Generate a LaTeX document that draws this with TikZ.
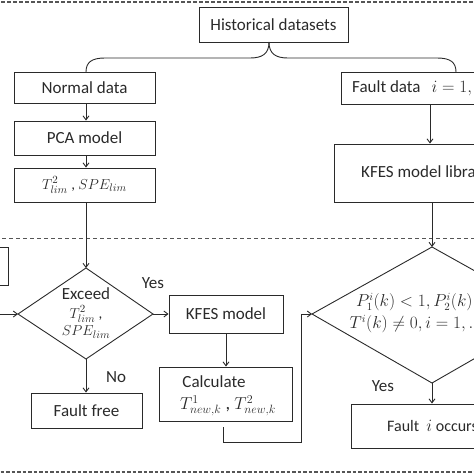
\documentclass[tikz,border=0pt]{standalone}
\usepackage{fontspec}
\setmainfont{Carlito}
\usetikzlibrary{arrows.meta}
\definecolor{ink}{HTML}{2A2A2A}
\definecolor{dashgray}{HTML}{555555}
\newcommand{\mfs}{\fontsize{15}{17}\selectfont}
\begin{document}
\begin{tikzpicture}[x=1pt,y=-1pt,
  box/.style={draw=ink,line width=0.9pt,inner sep=0pt,text=ink,font=\fontsize{17}{19}\selectfont},
  lbl/.style={text=ink,font=\fontsize{17}{19}\selectfont,inner sep=0pt},
  conn/.style={draw=ink,line width=0.9pt},
  arr/.style={conn,-{Straight Barb[length=4pt,width=6pt]}}]
\useasboundingbox (0,0) rectangle (474,474);
\clip (0,0) rectangle (474,474);
% dashed frames
\draw[draw=dashgray,line width=2pt,dash pattern=on 4pt off 2pt] (-5,2) -- (480,2);
\draw[draw=dashgray,line width=0.9pt,dash pattern=on 4pt off 3pt] (-5,238) -- (480,238);
\draw[draw=dashgray,line width=2pt,dash pattern=on 3.5pt off 2pt] (-5,472) -- (480,472);
% boxes
\node[box,minimum width=149pt,minimum height=35pt] (hist) at (273.5,24.5) {Historical datasets};
\node[box,minimum width=141pt,minimum height=31pt] (normal) at (84.5,87.5) {Normal data};
\node[box,minimum width=141pt,minimum height=34pt] (pca) at (84.5,138) {PCA model};
\node[box,minimum width=141pt,minimum height=34pt] (tlim) at (84.5,185) {\mfs$T^2_{lim}$ , $SPE_{lim}$};
\node[box,minimum width=178pt,minimum height=32pt] (fdata) at (430,88) {};
\node[lbl,anchor=west] (fdatat) at (352,88) {Fault data\hspace{11pt}\fontsize{17}{19}\selectfont$i=1,2,\dots,N$};
\node[box,minimum width=192pt,minimum height=58pt] (lib) at (430,173) {};
\node[lbl,anchor=west] (libt) at (361,173) {KFES model library};
\node[box,minimum width=48pt,minimum height=38pt] (lbox) at (-16,266) {};
\node[box,minimum width=114pt,minimum height=38pt] (kfes) at (226,314) {KFES model};
\node[box,minimum width=133pt,minimum height=54pt] (calc) at (225.5,394) {};
\node[lbl] (calct) at (214,382) {Calculate};
\node[lbl] (calcm) at (228,406) {\fontsize{18.5}{20}\selectfont$T^1_{new,k}$ , $T^2_{new,k}$};
\node[box,minimum width=111pt,minimum height=35pt] (ffree) at (86.5,410.5) {Fault free};
\node[box,minimum width=162pt,minimum height=44pt] (faulti) at (432,426) {};
\node[lbl,anchor=west,font=\fontsize{16}{18}\selectfont] (faultit) at (387,426) {Fault\ \ $i$ occurs};
% diamond 1
\coordinate (d1t) at (86,268); \coordinate (d1b) at (86,359);
\coordinate (d1l) at (18,314); \coordinate (d1r) at (153,314);
\draw[conn] (d1t) -- (d1r) -- (d1b) -- (d1l) -- cycle;
\node[lbl] (d1a) at (86,294) {Exceed};
\node[lbl] (d1c) at (86,314) {\mfs$T^2_{lim}$ ,};
\node[lbl] (d1d) at (86,332) {\mfs$SPE_{lim}$};
% diamond 2
\coordinate (d2t) at (432,247); \coordinate (d2b) at (432,383);
\coordinate (d2l) at (312,314); \coordinate (d2r) at (552,314);
\draw[conn] (d2t) -- (d2r) -- (d2b) -- (d2l) -- cycle;
\node[lbl] (d2a) at (432,302) {\fontsize{16}{18}\selectfont$P_1^i(k)<1,P_2^i(k)<1,$};
\node[lbl] (d2c) at (432,324) {\fontsize{16}{18}\selectfont$T^i(k)\neq0,i=1,\dots,N$};
% brace
\draw[conn] (86,72) .. controls (86,62) and (92,58) .. (105,58) -- (250,58)
  .. controls (262,58) and (269,54) .. (269,42);
\draw[conn] (269,42) .. controls (269,54) and (276,58) .. (288,58) -- (437,58)
  .. controls (450,58) and (456,62) .. (456,72);
% connectors
\draw[arr] (normal.south -| 86,0) -- (pca.north -| 86,0);
\draw[arr] (pca.south -| 86,0) -- (tlim.north -| 86,0);
\draw[arr] (tlim.south -| 86,0) -- (d1t);
\coordinate (lin) at (-10,314);
\draw[arr] (lin) -- (d1l);
\draw[arr] (d1r) -- (kfes.west);
\draw[arr] (kfes.south) -- (calc.north -| kfes.south);
\draw[arr] (d1b) -- (ffree.north -| d1b);
\coordinate (c1) at (223,427);
\draw[arr] (c1) -- (223,442) -- (301,442) -- (301,314) -- (d2l);
\draw[arr] (fdata.south) -- (lib.north);
\draw[arr] (lib.south -| d2t) -- (d2t);
\draw[arr] (d2b) -- (faulti.north);
% labels
\node[lbl] (yes1) at (153,283) {Yes};
\node[lbl] (no1) at (116,377) {No};
\node[lbl] (yes2) at (383,386) {Yes};
\end{tikzpicture}
\end{document}
